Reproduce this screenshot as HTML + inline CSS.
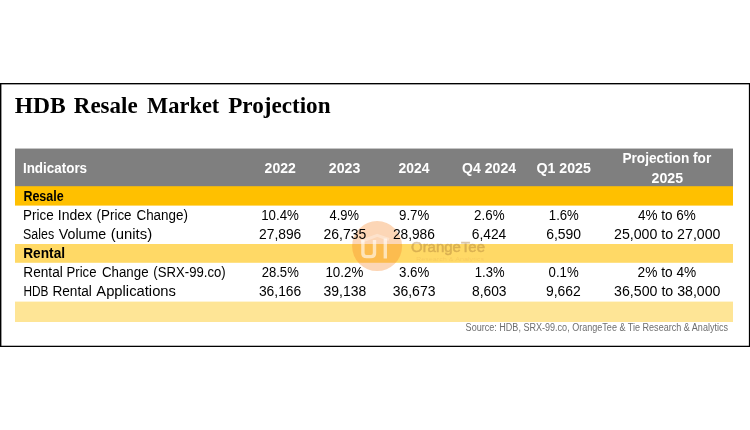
<!DOCTYPE html>
<html><head><meta charset="utf-8">
<style>
html,body{margin:0;padding:0;background:#fff;}
body{width:750px;height:430px;position:relative;overflow:hidden;font-family:"Liberation Sans",sans-serif;color:#000;}
.ln{position:absolute;background:#000;}
.band{position:absolute;left:15px;width:718px;}
svg.tx{position:absolute;left:0;top:0;filter:grayscale(1);font-family:"Liberation Sans",sans-serif;}
</style></head><body>
<div class="ln" style="left:0;top:83px;width:750px;height:1px"></div>
<div class="ln" style="left:0;top:84px;width:750px;height:1px;opacity:.38"></div>
<div class="ln" style="left:0;top:346px;width:750px;height:1px"></div>
<div class="ln" style="left:0;top:345px;width:750px;height:1px;opacity:.28"></div>
<div class="ln" style="left:0;top:83px;width:1px;height:264px"></div>
<div class="ln" style="left:1px;top:83px;width:1px;height:264px;opacity:.4"></div>
<div class="ln" style="left:749px;top:83px;width:1px;height:264px"></div>
<div class="ln" style="left:748px;top:83px;width:1px;height:264px;opacity:.12"></div>

<div class="band" style="top:148px;height:1px;background:#7f7f7f;opacity:.45"></div>
<div class="band" style="top:149px;height:37px;background:#7f7f7f"></div>
<div class="band" style="top:186px;height:1px;background:#e5b31a"></div>
<div class="band" style="top:187px;height:18px;background:#ffc000"></div>
<div class="band" style="top:205px;height:1px;background:#ffc000;opacity:.6"></div>
<div class="band" style="top:244px;height:18px;background:#ffd966"></div>
<div class="band" style="top:262px;height:1px;background:#ffd966;opacity:.8"></div>
<div class="band" style="top:301px;height:1px;background:#fee596;opacity:.4"></div>
<div class="band" style="top:302px;height:20px;background:#fee596"></div>

<!-- watermark -->
<svg style="position:absolute;left:350px;top:219px" width="150" height="54" viewBox="0 0 150 54">
<circle cx="27.1" cy="27.1" r="25" fill="#f58220" fill-opacity="0.33"/>
<g fill="none" stroke="#fff" stroke-opacity="0.6" stroke-width="3.4" stroke-linejoin="round">
<path d="M12.9 21 V34 Q12.9 37.6 16.5 37.6 H20.9 Q24.5 37.6 24.5 34 V21"/>
<path d="M35.3 19.5 V39.5"/>
<path d="M11 22.5 L27.2 16.3 L39 20.5" stroke-width="3" stroke-opacity="0.3"/>
</g>
<g opacity="0.42" font-family="Liberation Sans, sans-serif">
<text x="61" y="33" font-size="14" fill="#a87a35" stroke="#a87a35" stroke-width="0.5" textLength="74" lengthAdjust="spacingAndGlyphs">OrangeTee</text>
</g>
<text x="66" y="42" font-family="Liberation Sans, sans-serif" font-size="6" fill="#c87828" fill-opacity="0.14" textLength="68" lengthAdjust="spacingAndGlyphs">Research &amp; Analytics</text>
</svg>

<svg class="tx" width="750" height="430" xml:space="preserve">
<text x="22.91" y="172.5" font-size="14" font-weight="bold" fill="#ffffff" textLength="64.17" lengthAdjust="spacingAndGlyphs">Indicators</text>
<text x="264.61" y="172.5" font-size="14" font-weight="bold" fill="#ffffff" textLength="31.23" lengthAdjust="spacingAndGlyphs">2022</text>
<text x="328.89" y="172.5" font-size="14" font-weight="bold" fill="#ffffff" textLength="31.44" lengthAdjust="spacingAndGlyphs">2023</text>
<text x="398.60" y="172.5" font-size="14" font-weight="bold" fill="#ffffff" textLength="30.96" lengthAdjust="spacingAndGlyphs">2024</text>
<text x="462.14" y="172.5" font-size="14" font-weight="bold" fill="#ffffff" textLength="53.88" lengthAdjust="spacingAndGlyphs">Q4 2024</text>
<text x="536.50" y="172.5" font-size="14" font-weight="bold" fill="#ffffff" textLength="54.38" lengthAdjust="spacingAndGlyphs">Q1 2025</text>
<text x="622.42" y="163.4" font-size="14" font-weight="bold" fill="#ffffff" textLength="88.85" lengthAdjust="spacingAndGlyphs">Projection for</text>
<text x="651.61" y="182.5" font-size="14" font-weight="bold" fill="#ffffff" textLength="31.46" lengthAdjust="spacingAndGlyphs">2025</text>
<text x="23.38" y="201.4" font-size="14" font-weight="bold" fill="#000000" textLength="40.36" lengthAdjust="spacingAndGlyphs">Resale</text>
<text x="23.20" y="258.4" font-size="14" font-weight="bold" fill="#000000" textLength="41.88" lengthAdjust="spacingAndGlyphs">Rental</text>
<text x="23.00" y="220.4" font-size="14" font-weight="normal" fill="#000000" textLength="30.62" lengthAdjust="spacingAndGlyphs">Price</text>
<text x="57.80" y="220.4" font-size="14" font-weight="normal" fill="#000000" textLength="34.33" lengthAdjust="spacingAndGlyphs">Index</text>
<text x="96.59" y="220.4" font-size="14" font-weight="normal" fill="#000000" textLength="35.00" lengthAdjust="spacingAndGlyphs">(Price</text>
<text x="136.49" y="220.4" font-size="14" font-weight="normal" fill="#000000" textLength="51.43" lengthAdjust="spacingAndGlyphs">Change)</text>
<text x="23.05" y="239.3" font-size="14" font-weight="normal" fill="#000000" textLength="31.11" lengthAdjust="spacingAndGlyphs">Sales</text>
<text x="58.80" y="239.3" font-size="14" font-weight="normal" fill="#000000" textLength="47.50" lengthAdjust="spacingAndGlyphs">Volume</text>
<text x="110.77" y="239.3" font-size="14" font-weight="normal" fill="#000000" textLength="41.37" lengthAdjust="spacingAndGlyphs">(units)</text>
<text x="23.33" y="277.4" font-size="14" font-weight="normal" fill="#000000" textLength="39.43" lengthAdjust="spacingAndGlyphs">Rental</text>
<text x="66.59" y="277.4" font-size="14" font-weight="normal" fill="#000000" textLength="29.90" lengthAdjust="spacingAndGlyphs">Price</text>
<text x="101.97" y="277.4" font-size="14" font-weight="normal" fill="#000000" textLength="46.56" lengthAdjust="spacingAndGlyphs">Change</text>
<text x="153.37" y="277.4" font-size="14" font-weight="normal" fill="#000000" textLength="72.30" lengthAdjust="spacingAndGlyphs">(SRX-99.co)</text>
<text x="23.42" y="296.3" font-size="14" font-weight="normal" fill="#000000" textLength="24.97" lengthAdjust="spacingAndGlyphs">HDB</text>
<text x="52.43" y="296.3" font-size="14" font-weight="normal" fill="#000000" textLength="39.41" lengthAdjust="spacingAndGlyphs">Rental</text>
<text x="96.29" y="296.3" font-size="14" font-weight="normal" fill="#000000" textLength="79.68" lengthAdjust="spacingAndGlyphs">Applications</text>
<text x="261.21" y="220.4" font-size="14" font-weight="normal" fill="#000000" textLength="37.70" lengthAdjust="spacingAndGlyphs">10.4%</text>
<text x="329.58" y="220.4" font-size="14" font-weight="normal" fill="#000000" textLength="29.41" lengthAdjust="spacingAndGlyphs">4.9%</text>
<text x="399.07" y="220.4" font-size="14" font-weight="normal" fill="#000000" textLength="30.24" lengthAdjust="spacingAndGlyphs">9.7%</text>
<text x="474.12" y="220.4" font-size="14" font-weight="normal" fill="#000000" textLength="30.47" lengthAdjust="spacingAndGlyphs">2.6%</text>
<text x="548.83" y="220.4" font-size="14" font-weight="normal" fill="#000000" textLength="30.00" lengthAdjust="spacingAndGlyphs">1.6%</text>
<text x="638.03" y="220.4" font-size="14" font-weight="normal" fill="#000000" textLength="57.75" lengthAdjust="spacingAndGlyphs">4% to 6%</text>
<text x="259.07" y="239.3" font-size="14" font-weight="normal" fill="#000000" textLength="42.24" lengthAdjust="spacingAndGlyphs">27,896</text>
<text x="323.55" y="239.3" font-size="14" font-weight="normal" fill="#000000" textLength="42.75" lengthAdjust="spacingAndGlyphs">26,735</text>
<text x="392.89" y="239.3" font-size="14" font-weight="normal" fill="#000000" textLength="42.02" lengthAdjust="spacingAndGlyphs">28,986</text>
<text x="471.72" y="239.3" font-size="14" font-weight="normal" fill="#000000" textLength="34.52" lengthAdjust="spacingAndGlyphs">6,424</text>
<text x="546.14" y="239.3" font-size="14" font-weight="normal" fill="#000000" textLength="34.94" lengthAdjust="spacingAndGlyphs">6,590</text>
<text x="614.02" y="239.3" font-size="14" font-weight="normal" fill="#000000" textLength="106.48" lengthAdjust="spacingAndGlyphs">25,000 to 27,000</text>
<text x="261.71" y="277.4" font-size="14" font-weight="normal" fill="#000000" textLength="37.06" lengthAdjust="spacingAndGlyphs">28.5%</text>
<text x="325.43" y="277.4" font-size="14" font-weight="normal" fill="#000000" textLength="37.87" lengthAdjust="spacingAndGlyphs">10.2%</text>
<text x="399.00" y="277.4" font-size="14" font-weight="normal" fill="#000000" textLength="30.27" lengthAdjust="spacingAndGlyphs">3.6%</text>
<text x="474.86" y="277.4" font-size="14" font-weight="normal" fill="#000000" textLength="29.72" lengthAdjust="spacingAndGlyphs">1.3%</text>
<text x="548.62" y="277.4" font-size="14" font-weight="normal" fill="#000000" textLength="30.08" lengthAdjust="spacingAndGlyphs">0.1%</text>
<text x="637.61" y="277.4" font-size="14" font-weight="normal" fill="#000000" textLength="58.59" lengthAdjust="spacingAndGlyphs">2% to 4%</text>
<text x="258.90" y="296.3" font-size="14" font-weight="normal" fill="#000000" textLength="42.36" lengthAdjust="spacingAndGlyphs">36,166</text>
<text x="323.56" y="296.3" font-size="14" font-weight="normal" fill="#000000" textLength="42.61" lengthAdjust="spacingAndGlyphs">39,138</text>
<text x="392.70" y="296.3" font-size="14" font-weight="normal" fill="#000000" textLength="42.74" lengthAdjust="spacingAndGlyphs">36,673</text>
<text x="471.96" y="296.3" font-size="14" font-weight="normal" fill="#000000" textLength="34.57" lengthAdjust="spacingAndGlyphs">8,603</text>
<text x="545.93" y="296.3" font-size="14" font-weight="normal" fill="#000000" textLength="34.83" lengthAdjust="spacingAndGlyphs">9,662</text>
<text x="614.11" y="296.3" font-size="14" font-weight="normal" fill="#000000" textLength="106.39" lengthAdjust="spacingAndGlyphs">36,500 to 38,000</text>
<text x="14.68" y="113.3" font-size="23.3" font-weight="bold" font-family="Liberation Serif, serif" fill="#000000" textLength="51.03" lengthAdjust="spacingAndGlyphs">HDB</text>
<text x="73.84" y="113.3" font-size="23.3" font-weight="bold" font-family="Liberation Serif, serif" fill="#000000" textLength="63.82" lengthAdjust="spacingAndGlyphs">Resale</text>
<text x="147.11" y="113.3" font-size="23.3" font-weight="bold" font-family="Liberation Serif, serif" fill="#000000" textLength="72.21" lengthAdjust="spacingAndGlyphs">Market</text>
<text x="228.13" y="113.3" font-size="23.3" font-weight="bold" font-family="Liberation Serif, serif" fill="#000000" textLength="102.44" lengthAdjust="spacingAndGlyphs">Projection</text>
<text x="465.62" y="330.8" font-size="10" font-weight="normal" fill="#6e6e6e" textLength="262.41" lengthAdjust="spacingAndGlyphs">Source: HDB, SRX-99.co, OrangeTee &amp; Tie Research &amp; Analytics</text>
</svg>
</body></html>
